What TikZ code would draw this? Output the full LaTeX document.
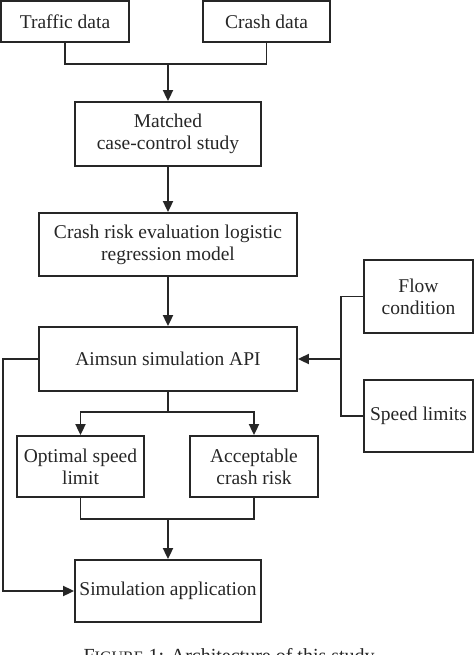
\documentclass[tikz,border=0pt]{standalone}
\usepackage{fontspec}
\setmainfont{Liberation Serif}
\usetikzlibrary{arrows.meta}
\begin{document}
\begin{tikzpicture}[x=1pt,y=-1pt,
  box/.style={draw=black!85,line width=1.8pt,align=center,inner sep=0pt,
    font=\fontsize{19.5}{22}\selectfont,text=black!85},
  link/.style={draw=black!85,line width=1.8pt},
  arr/.style={link,-{Triangle[length=11pt,width=10pt]}}]
\useasboundingbox (0,0) rectangle (474,655);
\clip (0,0) rectangle (474,655);
\node[box,minimum width=128pt,minimum height=41pt] (traffic) at (65,21.5) {Traffic data};
\node[box,minimum width=127pt,minimum height=41pt] (crash) at (266.5,21.5) {Crash data};
\node[box,minimum width=186pt,minimum height=64pt] (matched) at (168,134) {Matched\\case-control study};
\node[box,minimum width=258pt,minimum height=63pt] (risk) at (168,244.5) {Crash risk evaluation logistic\\regression model};
\node[box,minimum width=258pt,minimum height=64pt] (aimsun) at (168,359) {Aimsun simulation API};
\node[box,minimum width=109pt,minimum height=73pt] (flow) at (418.5,296.5) {Flow\\condition};
\node[box,minimum width=109pt,minimum height=72pt] (speed) at (418.5,416) {Speed limits};
\node[box,minimum width=127pt,minimum height=61pt] (optimal) at (80.5,466.5) {Optimal speed\\limit};
\node[box,minimum width=128pt,minimum height=61pt] (accept) at (254,466.5) {Acceptable\\crash risk};
\node[box,minimum width=186pt,minimum height=62pt] (sim) at (168,591) {Simulation application};
\node[anchor=base,inner sep=0pt,font=\fontsize{20}{22}\selectfont,text=black!85] (cap) at (231,662)
  {F{\fontsize{16}{18}\selectfont IGURE} 1: Architecture of this study.};
\coordinate (j1) at (168,64);
\coordinate (j2) at (341,359);
\coordinate (j3) at (168,412);
\coordinate (j4) at (168,519);
\coordinate (l1) at (3,359);
\draw[link] (traffic.south) |- (j1) -| (crash.south);
\draw[arr] (j1) -- (matched.north);
\draw[arr] (matched.south) -- (risk.north);
\draw[arr] (risk.south) -- (aimsun.north);
\draw[link] (flow.west) -| (j2) |- (speed.west);
\draw[arr] (j2) -- (aimsun.east);
\draw[arr] (aimsun.west) -- (l1) |- (sim.west);
\draw[link] (aimsun.south) -- (j3);
\draw[arr] (j3) -| (optimal.north);
\draw[arr] (j3) -| (accept.north);
\draw[link] (optimal.south) |- (j4) -| (accept.south);
\draw[arr] (j4) -- (sim.north);
\end{tikzpicture}
\end{document}
